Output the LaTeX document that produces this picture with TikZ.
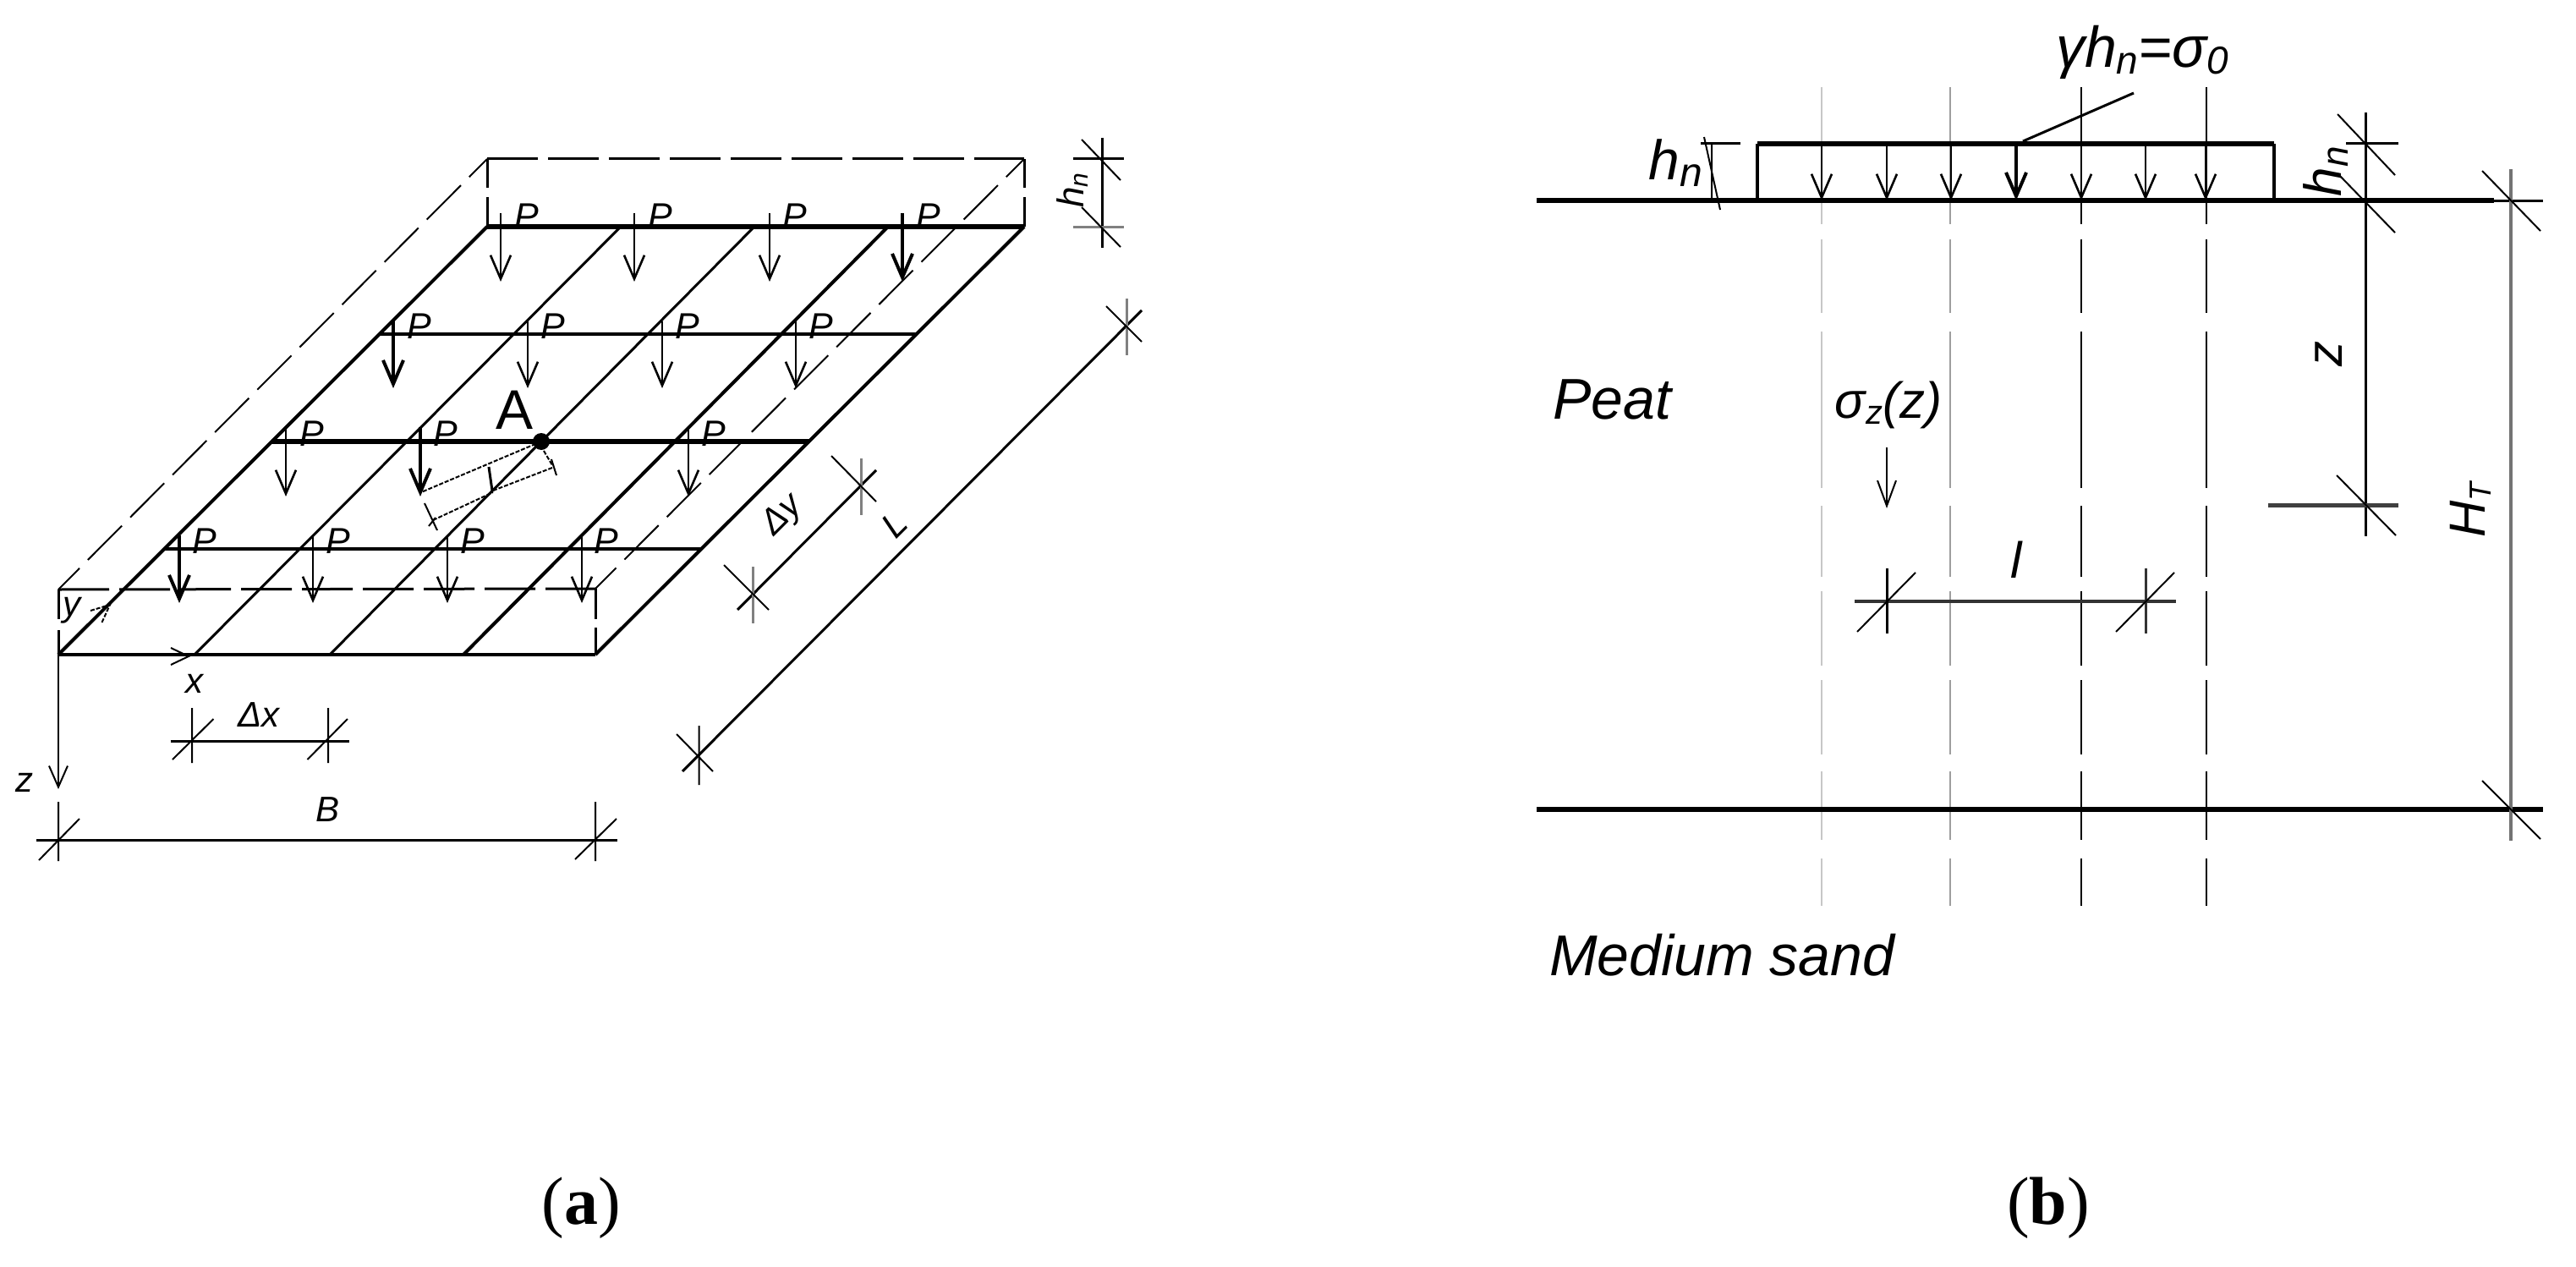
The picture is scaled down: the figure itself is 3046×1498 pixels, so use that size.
\documentclass[tikz,border=0pt]{standalone}
\usepackage{fontspec}
\setmainfont{Liberation Sans}
\newfontfamily\capfont{Liberation Serif}
\usetikzlibrary{arrows.meta}
\newcommand{\fsz}[1]{\fontsize{#1}{#1}\selectfont}
\newcommand{\lsub}[2]{\raisebox{-0.12em}{\fsz{#1}#2}}
\tikzset{
  thinln/.style={line width=2pt,black},
  medln/.style={line width=3pt,black},
  boldln/.style={line width=4pt,black},
  heavyln/.style={line width=6.5pt,black},
  txt/.style={inner sep=0pt,font=\fsz{42}\itshape},
  plabel/.style={inner sep=0pt,font=\fsz{43}\itshape},
  captext/.style={inner sep=0pt,font=\fsz{80}\capfont},
  longdash/.style={dash pattern=on 57pt off 14pt},
  load/.style={-{Straight Barb[length=28pt,width=24pt]},line width=2.6pt},
  loadb/.style={-{Straight Barb[length=28pt,width=24pt]},line width=4pt},
}
\begin{document}
\begin{tikzpicture}[x=1pt,y=-1pt]
\useasboundingbox (0,0) rectangle (3046,1498);
\fill[white] (0,0) rectangle (3046,1498);
% ---------- panel (a) corners
\coordinate (FL) at (69,774); \coordinate (FR) at (704,774);
\coordinate (BL) at (576,268); \coordinate (BR) at (1211,268);
\coordinate (FLu) at (69,697); \coordinate (FRu) at (704,696);
\coordinate (BLu) at (576,188); \coordinate (BRu) at (1211,188);
% dashed upper outline
\draw[medln,dash pattern=on 60pt off 12pt] (BLu) -- (BRu);
\draw[medln,dash pattern=on 60pt off 12pt] (FLu) -- (FRu);
\draw[thinln,longdash,dash phase=27pt] (BLu) -- (FLu);
\draw[thinln,longdash,dash phase=27pt] (BRu) -- (FRu);
\draw[medln] (BLu) -- (576,222) (576,233) -- (BL);
\draw[medln] (BRu) -- (1211,222) (1211,233) -- (BR);
\draw[medln] (FLu) -- (69,732) (69,745) -- (FL);
\draw[medln] (FRu) -- (704,732) (704,742) -- (FR);
% plate
\draw[boldln] (FL) -- (BL);
\draw[boldln] (FR) -- (BR);
\draw[medln] (230,774) -- (734,268);
\draw[medln] (390,774) -- (892,268);
\draw[boldln] (548,774) -- (1050,268);
\draw[heavyln,line width=5.5pt] (BL) -- (BR);
\draw[boldln] (FL) -- (FR);
\draw[medln,line width=3.4pt] (449,395) -- (1084,395);
\draw[heavyln,line width=5.5pt] (321,522) -- (957,522);
\draw[medln,line width=3.4pt] (195,649) -- (829,649);
% loads
\foreach \x/\st in {592/load,750/load,910/load,1067/loadb}
  \draw[\st] (\x,252) -- (\x,333);
\foreach \x in {623,781,940,1098} \node[plabel] (p1\x) at (\x,256) {P};
\foreach \x/\st in {465/loadb,624/load,783/load,941/load}
  \draw[\st] (\x,380) -- (\x,459);
\foreach \x in {496,654,813,971} \node[plabel] (p2\x) at (\x,386) {P};
\foreach \x/\st in {338/load,497/loadb,814/load}
  \draw[\st] (\x,505) -- (\x,587);
\foreach \x in {369,527,844} \node[plabel] (p3\x) at (\x,513) {P};
\foreach \x/\st in {212/loadb,370/load,529/load,688/load}
  \draw[\st] (\x,633) -- (\x,713);
\foreach \x in {242,400,559,717} \node[plabel] (p4\x) at (\x,640) {P};
% point A
\fill (640,522) circle (10pt);
\node[inner sep=0pt,font=\fsz{66}] (A) at (609,485) {A};
\draw[thinln,dash pattern=on 5pt off 2pt] (640,522) -- (498,582);
\draw[thinln,dash pattern=on 5pt off 2pt] (583,580) -- (653,553);
\draw[thinln,dash pattern=on 5pt off 2pt] (643,533) -- (653,550);
\draw[thinln] (652,543) -- (658,562);
\draw[medln] (578,552) -- (582,580);
\draw[thinln,dash pattern=on 5pt off 2pt] (512,615) -- (583,582);
\draw[thinln] (502,595) -- (517,627) (507,622) -- (515,612);
% hn dimension (a)
\draw[medln] (1303,163) -- (1303,293);
\draw[medln] (1269,188) -- (1329,188);
\draw[medln,gray] (1269,268) -- (1329,268);
\draw[thinln] (1279,165) -- (1325,213) (1279,245) -- (1325,292);
\node[inner sep=0pt,rotate=90,font=\fsz{44}\itshape] (hna) at (1268,225) {h\lsub{30}{n}};
% L dimension
\draw[medln] (807,912) -- (1350,367);
\draw[medln,gray] (1332,353) -- (1332,420);
\draw[thinln] (1308,362) -- (1350,404);
\draw[thinln] (826.5,858) -- (826.5,928) (800,868) -- (843,912);
\node[inner sep=0pt,rotate=45,font=\fsz{42}\itshape] (Llab) at (1058,620) {L};
% dy dimension
\draw[medln] (872,721) -- (1036,556);
\draw[medln,gray] (1018,542) -- (1018,609) (890,670) -- (890,737);
\draw[thinln] (983,539) -- (1036,593) (856,668) -- (909,721);
\node[inner sep=0pt,rotate=45,font=\fsz{42}\itshape] (dylab) at (926,610) {Δy};
% dx dimension
\draw[medln] (201.5,876) -- (413,876);
\draw[thinln] (227,837) -- (227,902) (388,837) -- (388,902) (252.5,850) -- (204,898) (411,850) -- (363.5,898);
\node[txt] (dxlab) at (306,845) {Δx};
% B dimension
\draw[medln] (43,993) -- (730,993);
\draw[thinln] (69,948) -- (69,1018) (704,948) -- (704,1018) (94,968) -- (46,1017) (729,968) -- (680,1016);
\node[txt] (Blab) at (388,957) {B};
% axes
\draw[thinln,-{Straight Barb[length=25pt,width=22pt]}] (FL) -- (69,933);
\node[txt] (zlab) at (29,925) {z};
\draw[thinln] (202,766) -- (223,776) -- (202,786);
\node[txt] (xlab) at (230,808) {x};
\draw[thinln,dash pattern=on 5pt off 2pt] (107,722) -- (130,715) -- (120,737);
\node[txt] (ylab) at (85,722) {y};
% ---------- panel (b)
\foreach \x/\c in {2154/black!22,2306/black!38,2461/black,2609/black}
  \draw[thinln,\c] (\x,103) -- (\x,265) (\x,283) -- (\x,370) (\x,392) -- (\x,577) (\x,598) -- (\x,682) (\x,699) -- (\x,787) (\x,804) -- (\x,892) (\x,912) -- (\x,993) (\x,1015) -- (\x,1071);
\draw[line width=5.5pt] (1817,237) -- (2949,237);
\draw[medln] (2949,237) -- (3007,237);
\draw[line width=5.5pt] (1817,957) -- (3007,957);
\draw[heavyln] (2078,170) -- (2689,170);
\draw[boldln] (2078,170) -- (2078,237) (2689,170) -- (2689,237);
\foreach \x/\st in {2154/load,2231/load,2307/load,2384/loadb,2461/load,2537/load,2608/load}
  \draw[\st] (\x,170) -- (\x,237);
\draw[medln] (2523,110) -- (2392,167);
\node[inner sep=0pt,font=\fsz{68}\itshape] (gam) at (2533,62) {γh\lsub{46}{n}=σ\lsub{46}{0}};
% left hn
\draw[thinln] (2024,170) -- (2024,237) (2015,162) -- (2034,248);
\draw[medln] (2011,170) -- (2058,170);
\node[inner sep=0pt,font=\fsz{66}\itshape] (hnl) at (1981,193) {h\lsub{48}{n}};
% right hn and z
\draw[medln] (2797,133) -- (2797,634);
\draw[medln] (2774,170) -- (2836,170);
\draw[thinln] (2764,135) -- (2832,207) (2764,205) -- (2832,275);
\node[inner sep=0pt,rotate=90,font=\fsz{62}\itshape] (hnr) at (2750,203) {h\lsub{44}{n}};
\node[inner sep=0pt,rotate=90,font=\fsz{60}\itshape] (zr) at (2754,418) {z};
\draw[line width=5pt,black!75] (2682,597) -- (2836,597);
\draw[thinln] (2763,562) -- (2833,633);
% HT
\draw[line width=3.4pt,black!55] (2969,200) -- (2969,994);
\draw[thinln] (2935,202) -- (3004,273) (2935,923) -- (3004,992);
\node[inner sep=0pt,rotate=90,font=\fsz{60}\itshape] (ht) at (2921,603) {H\lsub{36}{T}};
% l
\draw[line width=4pt,black!80] (2193,711) -- (2573,711);
\draw[medln] (2231,672) -- (2231,749);
\draw[medln,black!80] (2537,672) -- (2537,749);
\draw[thinln] (2265,677) -- (2196,747) (2571,677) -- (2502,747);
\node[inner sep=0pt,font=\fsz{60}\itshape] (ll) at (2384,662) {l};
% sigma
\node[inner sep=0pt,font=\fsz{60}\itshape] (sig) at (2233,479) {σ\lsub{40}{z}(z)};
\draw[thinln,-{Straight Barb[length=30pt,width=22pt]}] (2231,529) -- (2231,601);
% soils
\node[inner sep=0pt,font=\fsz{68}\itshape,anchor=base west] (peat) at (1836,495) {Peat};
\node[inner sep=0pt,font=\fsz{68}\itshape,anchor=base west] (sand) at (1832,1153) {Medium sand};
% captions
\node[captext] (capa) at (687,1428) {(\textbf{a})};
\node[captext] (capb) at (2422,1428) {(\textbf{b})};
\end{tikzpicture}
\end{document}
